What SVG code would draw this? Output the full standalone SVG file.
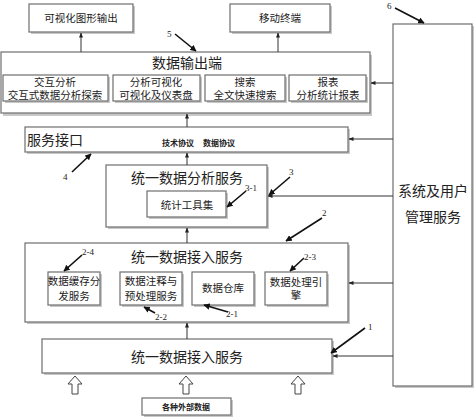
<svg xmlns="http://www.w3.org/2000/svg" width="474" height="417" viewBox="0 0 474 417">
<defs>
<marker id="ah" viewBox="0 0 10 10" refX="9" refY="5" markerWidth="5" markerHeight="5" orient="auto"><path d="M0,1 L10,5 L0,9 z" fill="#222"/></marker>
<marker id="ahb" viewBox="0 0 10 10" refX="9" refY="5" markerWidth="4" markerHeight="4" orient="auto"><path d="M0,0 L10,5 L0,10 z" fill="#111"/></marker>
</defs>
<style>
.box{fill:#fff;stroke:#6e6e6e;stroke-width:1.2}
.sh{fill:#c8c8c8}
.t{font-family:"Liberation Serif","Noto Sans CJK SC",serif;fill:#222;text-anchor:middle}
.big{font-size:14px}
.mid{font-size:10.5px}
.sm{font-size:8px;font-weight:bold}
.num{font-family:"Liberation Serif",serif;font-size:9px;fill:#222}
.c{stroke:#333;stroke-width:1;fill:none}
.n{stroke:#111;stroke-width:1.6;fill:none}
.hollow{fill:#fff;stroke:#444;stroke-width:1}
</style>
<rect width="474" height="417" fill="#fff"/>

<g id="out-graph">
<rect class="sh" x="31" y="6" width="104" height="28"/>
<rect class="box" x="29" y="4" width="104" height="28"/>
<text class="t mid" x="81" y="22">可视化图形输出</text>
</g>
<g id="out-mobile">
<rect class="sh" x="232" y="6" width="100" height="28"/>
<rect class="box" x="230" y="4" width="100" height="28"/>
<text class="t mid" x="280" y="22">移动终端</text>
</g>

<g id="output">
<rect class="sh" x="3" y="55" width="369" height="61"/>
<rect class="box" x="1" y="52" width="369" height="61"/>
<text class="t big" x="187" y="68">数据输出端</text>
<rect class="sh" x="5" y="77" width="105" height="26"/>
<rect class="box" x="3" y="75" width="105" height="26"/>
<text class="t mid" x="55" y="86">交互分析</text>
<text class="t mid" x="55" y="99">交互式数据分析探索</text>
<rect class="sh" x="115" y="77" width="87" height="26"/>
<rect class="box" x="113" y="75" width="87" height="26"/>
<text class="t mid" x="156" y="86">分析可视化</text>
<text class="t mid" x="156" y="99">可视化及仪表盘</text>
<rect class="sh" x="207" y="77" width="80" height="26"/>
<rect class="box" x="205" y="75" width="80" height="26"/>
<text class="t mid" x="245" y="86">搜索</text>
<text class="t mid" x="245" y="99">全文快速搜索</text>
<rect class="sh" x="291" y="77" width="77" height="26"/>
<rect class="box" x="289" y="75" width="77" height="26"/>
<text class="t mid" x="328" y="86">报表</text>
<text class="t mid" x="328" y="99">分析统计报表</text>
</g>

<g id="service-interface">
<rect class="sh" x="27" y="129" width="323" height="25"/>
<rect class="box" x="25" y="127" width="323" height="25"/>
<text class="t big" x="27" y="145" style="text-anchor:start">服务接口</text>
<text class="t sm" x="162" y="146" style="text-anchor:start">技术协议<tspan dx="9">数据协议</tspan></text>
</g>

<g id="analysis">
<rect class="sh" x="108" y="167" width="161" height="62"/>
<rect class="box" x="106" y="165" width="161" height="62"/>
<text class="t big" x="187" y="183">统一数据分析服务</text>
<rect class="sh" x="149" y="193" width="79" height="26"/>
<rect class="box" x="147" y="191" width="79" height="26"/>
<text class="t mid" x="187" y="209">统计工具集</text>
</g>

<g id="access-mid">
<rect class="sh" x="27" y="245" width="323" height="79"/>
<rect class="box" x="25" y="243" width="323" height="79"/>
<text class="t big" x="187" y="262">统一数据接入服务</text>
<rect class="sh" x="50" y="274" width="52" height="33"/>
<rect class="box" x="48" y="272" width="52" height="33"/>
<text class="t mid" x="74" y="285">数据缓存分</text>
<text class="t mid" x="74" y="300">发服务</text>
<rect class="sh" x="122" y="274" width="62" height="33"/>
<rect class="box" x="120" y="272" width="62" height="33"/>
<text class="t mid" x="151" y="285">数据注释与</text>
<text class="t mid" x="151" y="300">预处理服务</text>
<rect class="sh" x="194" y="274" width="62" height="33"/>
<rect class="box" x="192" y="272" width="62" height="33"/>
<text class="t mid" x="223" y="292">数据仓库</text>
<rect class="sh" x="267" y="274" width="62" height="33"/>
<rect class="box" x="265" y="272" width="62" height="33"/>
<text class="t mid" x="296" y="286">数据处理引</text>
<text class="t mid" x="296" y="299">擎</text>
</g>

<g id="access-bottom">
<rect class="sh" x="44" y="341" width="290" height="34"/>
<rect class="box" x="42" y="339" width="290" height="34"/>
<text class="t big" x="187" y="362">统一数据接入服务</text>
</g>

<g id="external">
<rect class="sh" x="144" y="400" width="89" height="17"/>
<rect class="box" x="142" y="398" width="89" height="17"/>
<text class="t sm" x="186" y="410">各种外部数据</text>
</g>

<g id="system">
<rect class="sh" x="395" y="26" width="79" height="362"/>
<rect class="box" x="393" y="24" width="79" height="362"/>
<text class="t big" x="433" y="196">系统及用户</text>
<text class="t big" x="433" y="222">管理服务</text>
</g>

<g id="connectors">
<line class="c" x1="81" y1="52" x2="81" y2="33" marker-end="url(#ah)"/>
<line class="c" x1="278" y1="52" x2="278" y2="33" marker-end="url(#ah)"/>
<line class="c" x1="187" y1="127" x2="187" y2="114" marker-end="url(#ah)"/>
<line class="c" x1="187" y1="165" x2="187" y2="153" marker-end="url(#ah)"/>
<line class="c" x1="187" y1="243" x2="187" y2="228" marker-end="url(#ah)"/>
<line class="c" x1="187" y1="339" x2="187" y2="323" marker-end="url(#ah)"/>
<line class="c" x1="393" y1="83" x2="371" y2="83" marker-end="url(#ah)"/>
<line class="c" x1="393" y1="139" x2="349" y2="139" marker-end="url(#ah)"/>
<line class="c" x1="393" y1="196" x2="268" y2="196" marker-end="url(#ah)"/>
<line class="c" x1="393" y1="283" x2="349" y2="283" marker-end="url(#ah)"/>
<line class="c" x1="393" y1="356" x2="333" y2="356" marker-end="url(#ah)"/>
<path class="hollow" d="M72,394 L72,384 L68,384 L75,376 L82,384 L78,384 L78,394 Z"/>
<path class="hollow" d="M183,394 L183,384 L179,384 L186,376 L193,384 L189,384 L189,394 Z"/>
<path class="hollow" d="M295,394 L295,384 L291,384 L298,376 L305,384 L301,384 L301,394 Z"/>
<line class="n" x1="175" y1="34" x2="196" y2="51" marker-end="url(#ahb)"/>
<line class="n" x1="395" y1="8" x2="424" y2="23" marker-end="url(#ahb)"/>
<line class="n" x1="72" y1="172" x2="91" y2="154" marker-end="url(#ahb)"/>
<line class="n" x1="290" y1="177" x2="269" y2="195" marker-end="url(#ahb)"/>
<line class="n" x1="246" y1="191" x2="227" y2="207" marker-end="url(#ahb)"/>
<line class="n" x1="322" y1="218" x2="286" y2="241" marker-end="url(#ahb)"/>
<line class="n" x1="82" y1="255" x2="64" y2="271" marker-end="url(#ahb)"/>
<line class="n" x1="304" y1="258" x2="290" y2="271" marker-end="url(#ahb)"/>
<line class="n" x1="155" y1="313" x2="144" y2="307" marker-end="url(#ahb)"/>
<line class="n" x1="228" y1="312" x2="204" y2="305" marker-end="url(#ahb)"/>
<line class="n" x1="365" y1="328" x2="331" y2="353" marker-end="url(#ahb)"/>
</g>

<g id="labels">
<text class="num" x="167" y="37">5</text>
<text class="num" x="387" y="9">6</text>
<text class="num" x="63" y="180">4</text>
<text class="num" x="289" y="175">3</text>
<text class="num" x="245" y="191">3-1</text>
<text class="num" x="322" y="216">2</text>
<text class="num" x="82" y="255">2-4</text>
<text class="num" x="304" y="260">2-3</text>
<text class="num" x="155" y="320">2-2</text>
<text class="num" x="226" y="317">2-1</text>
<text class="num" x="368" y="330">1</text>
</g>
</svg>
